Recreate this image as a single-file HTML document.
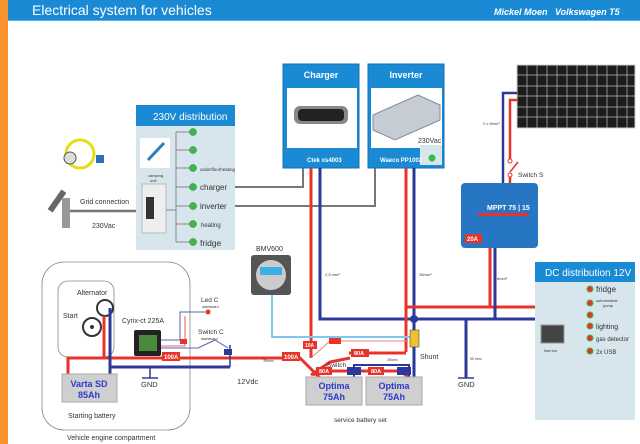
<!DOCTYPE html>
<html><head><meta charset="utf-8"><style>
html,body{margin:0;padding:0;background:#fff}
svg{display:block}
text{font-family:"Liberation Sans",sans-serif}
</style></head><body>
<svg width="640" height="444" viewBox="0 0 640 444" xmlns="http://www.w3.org/2000/svg">
<rect x="0" y="0" width="640" height="444" fill="#fff"/>
<rect x="0" y="0" width="640" height="20" fill="#1a8ad4"/>
<rect x="0" y="20" width="640" height="1" fill="#5aaee0"/>
<rect x="0" y="0" width="8" height="444" fill="#f7922d"/>
<text x="32" y="15" font-size="14" fill="#fff">Electrical system for vehicles</text>
<text x="494" y="15" font-size="9" fill="#fff" font-style="italic" font-weight="bold">Mickel Moen</text>
<text x="555" y="15" font-size="9" fill="#fff" font-style="italic" font-weight="bold">Volkswagen T5</text>

<!-- engine compartment -->
<rect x="42" y="262" width="148" height="168" rx="22" fill="none" stroke="#888" stroke-width="0.8"/>
<rect x="58" y="281" width="56" height="76" rx="10" fill="none" stroke="#888" stroke-width="0.8"/>
<text x="77" y="295" font-size="7" fill="#333">Alternator</text>
<text x="63" y="318" font-size="7" fill="#333">Start</text>
<circle cx="105" cy="308" r="8" fill="#fff" stroke="#333" stroke-width="2"/>
<circle cx="92" cy="327" r="9" fill="#fff" stroke="#333" stroke-width="2"/>
<circle cx="92" cy="327" r="2" fill="#333"/>
<text x="67" y="440" font-size="7" fill="#333">Vehicle engine compartment</text>
<text x="68" y="418" font-size="7" fill="#333">Starting battery</text>

<!-- grid -->
<g fill="#666"><rect x="45" y="198" width="24" height="6" transform="rotate(-55 57 201)"/></g>
<rect x="62" y="198" width="8" height="30" fill="#999"/>
<line x1="70" y1="211" x2="142" y2="211" stroke="#777" stroke-width="2.5"/>
<text x="80" y="204" font-size="7" fill="#333">Grid connection</text>
<text x="92" y="228" font-size="7" fill="#333">230Vac</text>
<circle cx="80" cy="154" r="14" fill="none" stroke="#e8dc18" stroke-width="3"/>
<circle cx="70" cy="158" r="6" fill="#ddd" stroke="#555"/>
<rect x="96" y="155" width="8" height="8" fill="#2a6fc0"/>

<!-- 230V distribution -->
<rect x="136" y="105" width="99" height="145" fill="#d7e5ec"/>
<rect x="136" y="105" width="99" height="21" fill="#1a8ad4"/>
<text x="153" y="120" font-size="10" fill="#fff">230V distribution</text>
<rect x="140" y="138" width="30" height="30" fill="#fff"/>
<line x1="148" y1="160" x2="164" y2="143" stroke="#2a7fc0" stroke-width="3"/>
<text x="148" y="177" font-size="4" fill="#333">camping</text>
<text x="150" y="182" font-size="4" fill="#333">unit</text>
<rect x="142" y="184" width="24" height="49" fill="#eee" stroke="#bbb"/>
<rect x="146" y="197" width="8" height="22" fill="#333"/>
<line x1="166" y1="210" x2="176" y2="210" stroke="#888"/>
<line x1="176" y1="132" x2="176" y2="242" stroke="#888"/>
<g stroke="#888"><line x1="176" y1="132" x2="193" y2="132"/><line x1="176" y1="150" x2="193" y2="150"/><line x1="176" y1="168" x2="193" y2="168"/><line x1="176" y1="187" x2="193" y2="187"/><line x1="176" y1="206" x2="193" y2="206"/><line x1="176" y1="224" x2="193" y2="224"/><line x1="176" y1="242" x2="193" y2="242"/></g>
<g fill="#3bb84a" stroke="#2a7a30" stroke-width="0.5"><circle cx="193" cy="132" r="3.5"/><circle cx="193" cy="150" r="3.5"/><circle cx="193" cy="168" r="3.5"/><circle cx="193" cy="187" r="3.5"/><circle cx="193" cy="206" r="3.5"/><circle cx="193" cy="224" r="3.5"/><circle cx="193" cy="242" r="3.5"/></g>
<text x="200" y="171" font-size="4.5" fill="#333">underfloorheating</text>
<text x="200" y="190" font-size="8" fill="#333">charger</text>
<text x="200" y="209" font-size="8" fill="#333">inverter</text>
<text x="201" y="227" font-size="6" fill="#333">heating</text>
<text x="200" y="246" font-size="8.5" fill="#333">fridge</text>

<!-- gray lines -->
<polyline points="235,187 303,187 303,168" fill="none" stroke="#777" stroke-width="2"/>
<polyline points="235,206 375,206 375,166" fill="none" stroke="#777" stroke-width="2"/>

<!-- charger / inverter -->
<rect x="283" y="64" width="76" height="104" fill="#1a8ad4" stroke="#1372b0"/>
<text x="321" y="78" font-size="9" fill="#fff" font-weight="bold" text-anchor="middle">Charger</text>
<rect x="287" y="88" width="70" height="60" fill="#fff"/>
<rect x="294" y="106" width="54" height="18" rx="6" fill="#888"/>
<rect x="298" y="109" width="46" height="12" rx="4" fill="#222"/>
<text x="307" y="162" font-size="6" fill="#fff" font-weight="bold">Ctek xs4003</text>
<rect x="368" y="64" width="76" height="104" fill="#1a8ad4" stroke="#1372b0"/>
<text x="406" y="78" font-size="9" fill="#fff" font-weight="bold" text-anchor="middle">Inverter</text>
<rect x="371" y="88" width="71" height="60" fill="#fff"/>
<polygon points="373,115 418,95 440,105 440,120 395,140 373,130" fill="#c5ccd4" stroke="#889"/>
<rect x="420" y="145" width="22" height="20" fill="#d7e5ec"/>
<text x="418" y="143" font-size="7" fill="#333">230Vac</text>
<circle cx="432" cy="158" r="3.5" fill="#3bb84a"/>
<text x="380" y="162" font-size="6" fill="#fff" font-weight="bold">Waeco PP1002</text>

<!-- solar -->
<rect x="517" y="65" width="118" height="63" fill="#1c1c1c" stroke="#ccc"/>
<g stroke="#bbb" stroke-width="0.7">
<line x1="517" y1="75" x2="635" y2="75"/><line x1="517" y1="86" x2="635" y2="86"/><line x1="517" y1="96" x2="635" y2="96"/><line x1="517" y1="107" x2="635" y2="107"/><line x1="517" y1="117" x2="635" y2="117"/>
<line x1="527" y1="65" x2="527" y2="128"/><line x1="537" y1="65" x2="537" y2="128"/><line x1="547" y1="65" x2="547" y2="128"/><line x1="557" y1="65" x2="557" y2="128"/><line x1="567" y1="65" x2="567" y2="128"/><line x1="577" y1="65" x2="577" y2="128"/><line x1="587" y1="65" x2="587" y2="128"/><line x1="597" y1="65" x2="597" y2="128"/><line x1="607" y1="65" x2="607" y2="128"/><line x1="617" y1="65" x2="617" y2="128"/><line x1="627" y1="65" x2="627" y2="128"/></g>
<polyline points="517,93 503,93 503,185" fill="none" stroke="#2b3a9a" stroke-width="2.5"/>
<polyline points="517,100 510,100 510,160" fill="none" stroke="#e8332b" stroke-width="2.5"/>
<line x1="510" y1="172" x2="518" y2="162" stroke="#e8332b" stroke-width="1.5"/>
<line x1="510" y1="175" x2="510" y2="185" stroke="#e8332b" stroke-width="2.5"/>
<circle cx="510" cy="161" r="2" fill="#fff" stroke="#e8332b"/><circle cx="510" cy="175" r="2" fill="#fff" stroke="#e8332b"/>
<text x="518" y="177" font-size="6.5" fill="#333">Switch S</text>
<text x="483" y="125" font-size="4" fill="#333" font-style="italic">2 x 6mm²</text>
<rect x="461" y="183" width="77" height="65" rx="4" fill="#2776c4"/>
<text x="487" y="210" font-size="7" fill="#fff" font-weight="bold">MPPT 75 | 15</text>
<rect x="478" y="213" width="50" height="3" fill="#e8332b"/>
<rect x="465" y="234" width="17" height="9" fill="#e8332b"/>
<text x="467" y="241" font-size="6" fill="#fff" font-weight="bold">20A</text>

<!-- wiring -->
<g fill="none" stroke-width="3">
<line x1="311" y1="168" x2="311" y2="358" stroke="#e8332b"/>
<polyline points="320,168 320,319 590,319" stroke="#2b3a9a"/>
<line x1="406" y1="168" x2="406" y2="352" stroke="#e8332b"/>
<line x1="414" y1="168" x2="414" y2="378" stroke="#2b3a9a"/>
<polyline points="406,307 598,307" stroke="#e8332b"/>
<polyline points="490,248 490,307" stroke="#e8332b"/>
<polyline points="495,248 495,319" stroke="#2b3a9a"/>
<line x1="466" y1="319" x2="466" y2="378" stroke="#2b3a9a"/>
<line x1="590" y1="282" x2="590" y2="360" stroke="#2b3a9a"/>
<line x1="598" y1="282" x2="598" y2="360" stroke="#e8332b"/>
</g>
<circle cx="414" cy="319" r="4" fill="#2b3a9a"/>
<line x1="458" y1="378" x2="474" y2="378" stroke="#2b3a9a" stroke-width="1.5"/>
<text x="458" y="387" font-size="7.5" fill="#333">GND</text>
<text x="470" y="360" font-size="3.5" fill="#333" font-style="italic">50 mm²</text>
<text x="325" y="276" font-size="4" fill="#333" font-style="italic">2,5 mm²</text>
<text x="419" y="276" font-size="4" fill="#333" font-style="italic">35mm²</text>
<text x="497" y="280" font-size="4" fill="#333" font-style="italic">6mm²</text>

<!-- BMV -->
<text x="256" y="251" font-size="7" fill="#333">BMV600</text>
<rect x="251" y="255" width="40" height="40" rx="3" fill="#555"/>
<circle cx="271" cy="275" r="15" fill="#ccc"/>
<rect x="260" y="267" width="22" height="8" fill="#3ab0e6"/>
<polyline points="272,295 272,337 410,337" fill="none" stroke="#7cc8ee" stroke-width="2"/>
<rect x="410" y="330" width="9" height="17" fill="#f0c030" stroke="#333" stroke-width="0.5"/>
<text x="420" y="359" font-size="7" fill="#333">Shunt</text>

<!-- DC distribution -->
<rect x="535" y="262" width="100" height="158" fill="#d7e5ec"/>
<rect x="535" y="262" width="100" height="20" fill="#1a8ad4"/>
<text x="545" y="276" font-size="10" fill="#fff">DC distribution 12V</text>
<g fill="#e8332b" stroke="#3bb84a" stroke-width="1"><circle cx="590" cy="289" r="3"/><circle cx="590" cy="303" r="3"/><circle cx="590" cy="315" r="3"/><circle cx="590" cy="326" r="3"/><circle cx="590" cy="338" r="3"/><circle cx="590" cy="351" r="3"/></g>
<text x="596" y="292" font-size="8" fill="#333">fridge</text>
<text x="596" y="302" font-size="4" fill="#333">submersible</text>
<text x="603" y="307" font-size="4" fill="#333">pump</text>
<text x="596" y="329" font-size="7" fill="#333">lighting</text>
<text x="596" y="341" font-size="6" fill="#333">gas detector</text>
<text x="596" y="354" font-size="6" fill="#333">2x USB</text>
<rect x="541" y="325" width="23" height="18" fill="#444" stroke="#999"/>
<text x="544" y="352" font-size="3.5" fill="#333">fuse box</text>

<!-- starting side wiring -->
<polyline points="68,374 68,358 300,358 320,378" fill="none" stroke="#e8332b" stroke-width="3"/>
<line x1="104" y1="316" x2="104" y2="358" stroke="#e8332b" stroke-width="3"/>
<polyline points="110,308 110,374" fill="none" stroke="#2b3a9a" stroke-width="3"/>
<line x1="110" y1="367" x2="230" y2="367" stroke="#2b3a9a" stroke-width="3"/>
<line x1="230" y1="345" x2="230" y2="367" stroke="#2b3a9a" stroke-width="1.5"/>
<line x1="150" y1="367" x2="150" y2="378" stroke="#2b3a9a" stroke-width="1.5"/>
<line x1="142" y1="378" x2="158" y2="378" stroke="#2b3a9a" stroke-width="1.5"/>
<text x="141" y="387" font-size="7.5" fill="#333">GND</text>
<text x="237" y="384" font-size="7.5" fill="#333">12Vdc</text>
<polyline points="158,340 180,340 180,312 205,312" fill="none" stroke="#5560b0" stroke-width="1"/>
<polyline points="158,346 185,346 185,316" fill="none" stroke="#e8332b" stroke-width="0.8"/>
<polyline points="158,348 198,348 215,340 228,348" fill="none" stroke="#5560b0" stroke-width="1"/>
<circle cx="208" cy="312" r="2.5" fill="#e8332b"/>
<text x="201" y="302" font-size="6.5" fill="#333">Led C</text>
<text x="202" y="308" font-size="3.5" fill="#333">dashboard</text>
<text x="198" y="334" font-size="6.5" fill="#333">Switch C</text>
<text x="201" y="340" font-size="3.5" fill="#333">dashboard</text>
<rect x="180" y="339" width="7" height="5" fill="#e8332b"/>
<rect x="224" y="349" width="8" height="6" fill="#2b3a9a"/>
<text x="122" y="323" font-size="7" fill="#333">Cyrix-ct 225A</text>
<rect x="134" y="330" width="27" height="26" rx="2" fill="#222"/>
<rect x="139" y="335" width="18" height="16" fill="#4a8a3a"/>
<rect x="162" y="352" width="18" height="9" fill="#e8332b"/>
<text x="164" y="359" font-size="6" fill="#fff" font-weight="bold">100A</text>
<rect x="282" y="352" width="18" height="9" fill="#e8332b"/>
<text x="284" y="359" font-size="6" fill="#fff" font-weight="bold">100A</text>
<text x="263" y="362" font-size="3.5" fill="#333" font-style="italic">35mm²</text>
<rect x="303" y="341" width="14" height="8" fill="#e8332b"/>
<text x="305" y="347" font-size="5" fill="#fff" font-weight="bold">10A</text>

<!-- service battery area -->
<polyline points="311,358 330,341 408,341" fill="none" stroke="#f08080" stroke-width="1"/>
<rect x="329" y="338" width="12" height="6" fill="#e8332b"/>
<polyline points="311,375 330,362 350,358" fill="none" stroke="#e8332b" stroke-width="3"/>
<polyline points="349,353 406,353" fill="none" stroke="#e8332b" stroke-width="3"/>
<rect x="351" y="349" width="18" height="8" fill="#e8332b"/>
<text x="354" y="355" font-size="5.5" fill="#fff" font-weight="bold">80A</text>
<text x="327" y="367" font-size="6.5" fill="#333">Switch</text>
<polyline points="313,375 320,371 400,371 410,378" fill="none" stroke="#e8332b" stroke-width="3"/>
<polyline points="354,378 354,365 409,365 409,378" fill="none" stroke="#2b3a9a" stroke-width="2"/>
<rect x="316" y="367" width="16" height="8" fill="#e8332b"/>
<text x="319" y="373" font-size="5.5" fill="#fff" font-weight="bold">80A</text>
<rect x="347" y="367" width="14" height="8" fill="#2b3a9a"/>
<rect x="368" y="367" width="16" height="8" fill="#e8332b"/>
<text x="371" y="373" font-size="5.5" fill="#fff" font-weight="bold">80A</text>
<rect x="397" y="367" width="14" height="8" fill="#2b3a9a"/>
<text x="387" y="361" font-size="3.5" fill="#333" font-style="italic">35mm²</text>

<!-- batteries -->
<rect x="62" y="374" width="55" height="28" fill="#cfcfcf" stroke="#aaa"/>
<text x="89" y="387" font-size="9" fill="#2b3acb" font-weight="bold" text-anchor="middle">Varta SD</text>
<text x="89" y="398" font-size="9" fill="#2b3acb" font-weight="bold" text-anchor="middle">85Ah</text>
<rect x="306" y="377" width="56" height="28" fill="#cfcfcf" stroke="#aaa"/>
<text x="334" y="389" font-size="9" fill="#2b3acb" font-weight="bold" text-anchor="middle">Optima</text>
<text x="334" y="400" font-size="9" fill="#2b3acb" font-weight="bold" text-anchor="middle">75Ah</text>
<rect x="366" y="377" width="56" height="28" fill="#cfcfcf" stroke="#aaa"/>
<text x="394" y="389" font-size="9" fill="#2b3acb" font-weight="bold" text-anchor="middle">Optima</text>
<text x="394" y="400" font-size="9" fill="#2b3acb" font-weight="bold" text-anchor="middle">75Ah</text>
<text x="334" y="422" font-size="6.5" fill="#333">service battery set</text>
</svg>
</body></html>
